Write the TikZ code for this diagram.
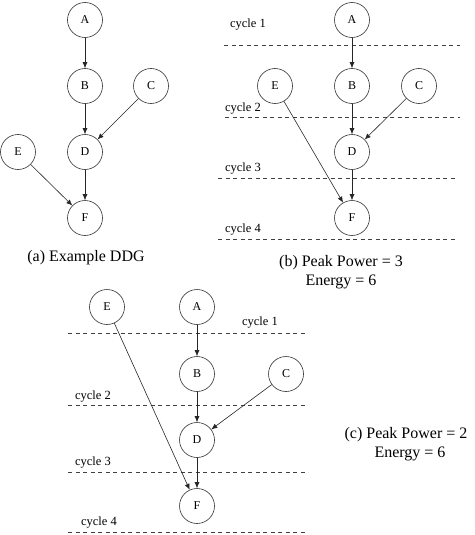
\documentclass[tikz,border=0pt]{standalone}
\usepackage{fontspec}
\setmainfont{Liberation Serif}
\usetikzlibrary{arrows.meta}
\tikzset{
  opnode/.style={circle,draw=black!80,line width=0.6pt,minimum size=35pt,inner sep=0pt,font=\fontsize{12}{14}\selectfont},
  dep/.style={draw=black!85,line width=0.6pt,-{Latex[length=6pt,width=5pt]}},
  cyc/.style={draw=black!75,line width=0.6pt,dash pattern=on 4pt off 3.5pt},
  cyclbl/.style={font=\fontsize{12.5}{14}\selectfont,inner sep=0pt},
  capt/.style={font=\fontsize{16}{19}\selectfont,inner sep=0pt,align=center}
}
\begin{document}
\begin{tikzpicture}[x=1pt,y=-1pt]
\useasboundingbox (0,0) rectangle (474,535);
% panel (a)
\node[opnode] (aA) at (85,20) {A};
\node[opnode] (aB) at (85,86) {B};
\node[opnode] (aC) at (151,86) {C};
\node[opnode] (aD) at (85,152) {D};
\node[opnode] (aE) at (18,152) {E};
\node[opnode] (aF) at (85,218) {F};
\draw[dep] (aA) -- (aB);
\draw[dep] (aB) -- (aD);
\draw[dep] (aC) -- (aD);
\draw[dep] (aD) -- (aF);
\draw[dep] (aE) -- (aF);
\node[capt] (capa) at (86,258) {(a) Example DDG};
% panel (b)
\coordinate (b1l) at (224,45); \coordinate (b1r) at (460,45);
\coordinate (b2l) at (225,117); \coordinate (b2r) at (460,117);
\coordinate (b3l) at (218,178); \coordinate (b3r) at (455,178);
\coordinate (b4l) at (218,239); \coordinate (b4r) at (455,239);
\draw[cyc] (b1l) -- (b1r);
\draw[cyc] (b2l) -- (b2r);
\draw[cyc] (b3l) -- (b3r);
\draw[cyc] (b4l) -- (b4r);
\node[cyclbl] (bc1) at (248,25) {cycle 1};
\node[cyclbl] (bc2) at (243,109) {cycle 2};
\node[cyclbl] (bc3) at (243,169) {cycle 3};
\node[cyclbl] (bc4) at (243,230) {cycle 4};
\node[opnode,fill=white] (bA) at (352,20) {A};
\node[opnode,fill=white] (bB) at (352,86) {B};
\node[opnode,fill=white] (bC) at (419,86) {C};
\node[opnode,fill=white] (bE) at (275,86) {E};
\node[opnode,fill=white] (bD) at (352,152) {D};
\node[opnode,fill=white] (bF) at (352,218) {F};
\draw[dep] (bA) -- (bB);
\draw[dep] (bB) -- (bD);
\draw[dep] (bC) -- (bD);
\draw[dep] (bD) -- (bF);
\draw[dep] (bE) -- (bF);
\node[capt] (capb) at (341,272) {(b) Peak Power = 3\\Energy = 6};
% panel (c)
\coordinate (c1l) at (68,333); \coordinate (c1r) at (305,333);
\coordinate (c2l) at (68,405); \coordinate (c2r) at (305,405);
\coordinate (c3l) at (68,472); \coordinate (c3r) at (308,472);
\coordinate (c4l) at (68,532); \coordinate (c4r) at (305,532);
\draw[cyc] (c1l) -- (c1r);
\draw[cyc] (c2l) -- (c2r);
\draw[cyc] (c3l) -- (c3r);
\draw[cyc] (c4l) -- (c4r);
\node[cyclbl] (cc1) at (260,323) {cycle 1};
\node[cyclbl] (cc2) at (93,397) {cycle 2};
\node[cyclbl] (cc3) at (93,463) {cycle 3};
\node[cyclbl] (cc4) at (99,523) {cycle 4};
\node[opnode,fill=white] (cE) at (107,307) {E};
\node[opnode,fill=white] (cA) at (197,307) {A};
\node[opnode,fill=white] (cB) at (197,374) {B};
\node[opnode,fill=white] (cC) at (286,374) {C};
\node[opnode,fill=white] (cD) at (197,440) {D};
\node[opnode,fill=white] (cF) at (197,506) {F};
\draw[dep] (cA) -- (cB);
\draw[dep] (cB) -- (cD);
\draw[dep] (cC) -- (cD);
\draw[dep] (cD) -- (cF);
\draw[dep] (cE) -- (cF);
\node[capt] (capc) at (406,444) {(c) Peak Power = 2\\\hspace*{8pt}Energy = 6};
\end{tikzpicture}
\end{document}
